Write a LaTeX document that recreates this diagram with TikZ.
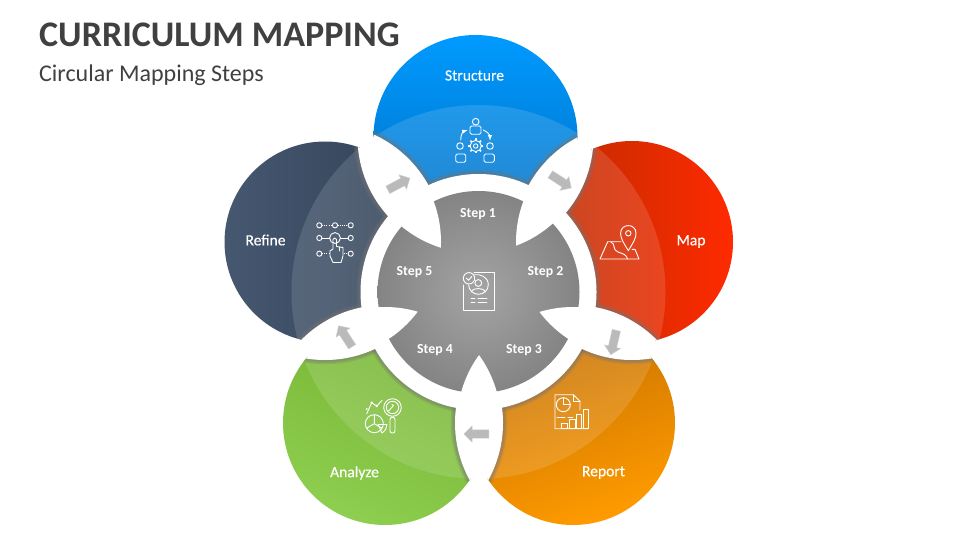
\documentclass[tikz,border=0pt]{standalone}
\usepackage{fontspec}
\usepackage{xcolor}
\setmainfont{Carlito}
\newfontfamily\labelfont[FakeBold=0.35]{Carlito}
\usetikzlibrary{shapes.arrows}
\definecolor{titlegray}{HTML}{404040}
\definecolor{arrowgray}{HTML}{BABABA}
\tikzset{
  petallabel/.style={text=white,font=\labelfont\fontsize{15.6}{18}\selectfont},
  steplabel/.style={text=white,font=\fontsize{13.8}{16}\selectfont\bfseries},
  steparrow/.style={single arrow,fill=arrowgray,draw=arrowgray!70,line width=0.4pt,inner sep=4pt,
    minimum height=25pt,single arrow head extend=4pt,single arrow head indent=0pt},
  iconline/.style={draw=white,line width=0.9pt,line join=round,line cap=round},
  iconthin/.style={draw=white,line width=0.9pt,dash pattern=on 1pt off 1.2pt},
}
\newcommand{\cutshadow}[1]{%
  \foreach \c in {#1} {\foreach \w in {8.5,6,3.5} \draw[black!55,opacity=0.22,line width=\w pt] (\c) circle (118);}%
  \foreach \c in {#1} \fill[white] (\c) circle (118);}
\begin{document}
\begin{tikzpicture}[x=1pt,y=-1pt,>=latex]
\useasboundingbox (0,0) rectangle (960,540);
%==================== Centres ==================
\coordinate (core) at (478.5,292);
\coordinate (structure) at (475.5,137);
\coordinate (map) at (632,242);
\coordinate (report) at (573,423);
\coordinate (analyze) at (385,423);
\coordinate (refine) at (325,242);
%==================== Title ==================
\node[anchor=west,inner sep=0pt,text=titlegray,font=\fontsize{36}{40}\selectfont\bfseries] (title) at (39,35) {CURRICULUM MAPPING};
\node[anchor=west,inner sep=0pt,text=titlegray,font=\fontsize{24}{28}\selectfont] (subtitle) at (39,75.5) {Circular Mapping Steps};
%==================== Petal Structure ==================
\begin{scope}
\clip (structure) circle (102);
\shade[top color={rgb,255:red,0;green,154;blue,255},bottom color={rgb,255:red,0;green,108;blue,190}] (structure) circle (102);
\fill[white,opacity=0.13] (core) circle (187);
\cutshadow{refine,map,core}
\end{scope}
%==================== Petal Map ==================
\begin{scope}
\clip (map) circle (101);
\shade[left color={rgb,255:red,184;green,44;blue,0},right color={rgb,255:red,255;green,42;blue,0}] (map) circle (101);
\fill[white,opacity=0.13] (core) circle (187);
\cutshadow{structure,report,core}
\end{scope}
%==================== Petal Report ==================
\begin{scope}
\clip (report) circle (102);
\shade[top color={rgb,255:red,195;green,110;blue,0},bottom color={rgb,255:red,255;green,155;blue,0},shading angle=20] (report) circle (102);
\fill[white,opacity=0.13] (core) circle (187);
\cutshadow{map,analyze,core}
\end{scope}
%==================== Petal Analyze ==================
\begin{scope}
\clip (analyze) circle (102);
\shade[top color={rgb,255:red,116;green,178;blue,46},bottom color={rgb,255:red,142;green,206;blue,80},shading angle=-25] (analyze) circle (102);
\fill[white,opacity=0.13] (core) circle (187);
\cutshadow{report,refine,core}
\end{scope}
%==================== Petal Refine ==================
\begin{scope}
\clip (refine) circle (100.5);
\shade[left color={rgb,255:red,70;green,88;blue,112},right color={rgb,255:red,48;green,64;blue,86}] (refine) circle (100.5);
\fill[white,opacity=0.13] (core) circle (187);
\cutshadow{analyze,structure,core}
\end{scope}
%==================== Centre disc ==================
\shade[inner color={rgb,255:red,164;green,164;blue,164},outer color={rgb,255:red,132;green,132;blue,132}] (core) circle (101);
\begin{scope}
\clip (structure) circle (116);
\fill[white] (refine) circle (116);
\end{scope}
\begin{scope}
\clip (structure) circle (116);
\fill[white] (map) circle (116);
\end{scope}
\begin{scope}
\clip (map) circle (116);
\fill[white] (report) circle (116);
\end{scope}
\begin{scope}
\clip (report) circle (116);
\fill[white] (analyze) circle (116);
\end{scope}
\begin{scope}
\clip (analyze) circle (116);
\fill[white] (refine) circle (116);
\end{scope}
%==================== Arrows ==================
\node[steparrow,rotate=28] (arrowOne) at (397,185) {};
\node[steparrow,rotate=-33] (arrowTwo) at (559,180) {};
\node[steparrow,rotate=-103] (arrowThree) at (614,340.5) {};
\node[steparrow,rotate=180] (arrowFour) at (478.5,434) {};
\node[steparrow,rotate=123] (arrowFive) at (346.5,338) {};
%==================== Labels ==================
\node[petallabel] (labelStructure) at (474.5,75.5) {Structure};
\node[petallabel] (labelMap) at (691,241.5) {Map};
\node[petallabel] (labelReport) at (603.5,472.5) {Report};
\node[petallabel] (labelAnalyze) at (354.5,473) {Analyze};
\node[petallabel] (labelRefine) at (265.5,240) {Refine};
\node[steplabel] (stepOne) at (478,214.5) {Step 1};
\node[steplabel] (stepTwo) at (545.5,272) {Step 2};
\node[steplabel] (stepThree) at (524,350.5) {Step 3};
\node[steplabel] (stepFour) at (435,350.5) {Step 4};
\node[steplabel] (stepFive) at (414.5,272) {Step 5};
%==================== Icon Structure ==================
\draw[iconline] (475.7,121.7) circle (3.3);
\draw[iconline,rounded corners=1.5pt] (470,134.3) rectangle (481,126);
\draw[iconline] (460,146) circle (3.3);
\draw[iconline,rounded corners=1.5pt] (455.7,162.3) rectangle (465.7,154);
\draw[iconline] (490,146) circle (3.3);
\draw[iconline,rounded corners=1.5pt] (484,162.3) rectangle (494.3,154);
\draw[iconline] (475.7,146) circle (5.6);
\draw[iconline] (475.7,146) circle (2.2);
\foreach \a in {0,45,...,315}
  \draw[white,line width=1.7pt,shift={(475.7,146)}] (\a:5.4) -- (\a:7.5);
\draw[iconline,->] (460.7,140) .. controls (460.7,135) and (463,131.5) .. (467.7,130);
\draw[iconline,->] (483.3,130) .. controls (487,131.5) and (490,135) .. (490,140.7);
%==================== Icon Map ==================
\draw[iconline] (628.3,250.7) .. controls (623,242) and (620.6,238) .. (620.6,233.3)
  .. controls (620.6,223) and (636,223) .. (636,233.3) .. controls (636,238) and (633.6,242) .. (628.3,250.7);
\draw[iconline] (628.3,233.3) circle (2.7);
\draw[iconline] (621,241.7) -- (607.7,241.7) -- (600,259) -- (639,259) -- (635,249.3) -- (632,249.3);
\draw[iconline] (611,242) .. controls (616,244) and (612,250) .. (618,252) .. controls (623,254) and (626,254) .. (627.5,259);
%==================== Icon Report ==================
\draw[iconline] (580,410) -- (580,401.3) -- (573.3,394.7) -- (555,394.7) -- (555,428.7) -- (588.3,428.7);
\draw[iconline] (573.3,394.7) -- (573.3,401.3) -- (580,401.3);
\draw[iconline] (563.3,404.7) circle (7);
\draw[iconline] (563.3,397.7) -- (563.3,404.7) -- (570.3,404.7);
\draw[iconline] (557,417) -- (565,417);
\draw[iconline] (568,417) -- (573,417);
\draw[iconline] (561.7,428.7) rectangle (567,423);
\draw[iconline] (569,428.7) rectangle (575,419.7);
\draw[iconline] (576,428.7) rectangle (581,414);
\draw[iconline] (583.3,428.7) rectangle (588.3,409.7);
%==================== Icon Analyze ==================
\draw[iconline] (392.5,407.5) circle (8.8);
\draw[iconline] (392.5,407.5) circle (6.2);
\draw[iconline] (388.5,411) -- (393.5,405.5) -- (392,404.5);
\draw[iconline,rounded corners=2.2pt] (390,433) rectangle (395,417.3);
\draw[iconline] (374.3,423.7) circle (9);
\draw[iconline] (374.3,414.7) -- (374.3,423.7) -- (366.5,428.2);
\draw[iconline] (374.3,423.7) -- (382.1,428.2);
\draw[iconline] (378,424.5) -- (387,424.5) .. controls (387,428) and (385,431) .. (382,433) -- cycle;
\draw[iconline] (366.7,413.7) -- (371.7,402.7) -- (376.7,406) -- (382,400.5);
\fill[white] (366.7,409) circle (1.2);
\fill[white] (371.7,402.7) circle (1.3);
\fill[white] (376.7,406) circle (1.3);
%==================== Icon Refine ==================
\foreach \x in {319.3,335,350.7} \draw[iconline] (\x,225.3) circle (2.6);
\draw[iconthin] (322,225.3) -- (332.4,225.3);
\draw[iconthin] (337.6,225.3) -- (348,225.3);
\draw[iconline] (319.3,238) circle (2.6);
\draw[iconline] (350.7,238) circle (2.6);
\draw[iconline] (335,238) circle (5.4);
\draw[iconline] (322,238) -- (329.6,238);
\draw[iconline] (340.4,238) -- (348,238);
\draw[iconline] (319.3,253.7) circle (2.6);
\draw[iconline] (350.7,253.7) circle (2.6);
\draw[iconthin] (322,253.7) -- (330,253.7);
\draw[iconthin] (344,253.7) -- (348,253.7);
\draw[iconline] (333,249) -- (333,239.5) .. controls (333,237.5) and (336.5,237.5) .. (336.5,239.5) -- (336.5,246.5)
  -- (343,247.5) -- (343,256) -- (341,262.5) -- (333,262.5) -- (330,256) -- (330,251) -- (333,249);
\draw[iconline] (339,247) -- (339,251);
%==================== Icon centre ==================
\draw[iconline] (474,272.7) -- (494.3,272.7) -- (494.3,310) -- (463.7,310) -- (463.7,285);
\draw[iconline] (469,278.3) circle (5.7);
\draw[iconline] (466.5,278.3) -- (468.5,280.3) -- (471.8,276.5);
\draw[iconline] (474.5,274.8) .. controls (480,273.5) and (488,277) .. (488.3,284.3) .. controls (488.5,290) and (484,294.3) .. (478.3,294.3) .. controls (473,294.3) and (468.8,290) .. (468.6,285);
\draw[iconline] (478.3,283) circle (3.4);
\draw[iconline] (471.5,292) .. controls (472,287.5) and (484.5,287.5) .. (485.2,292);
\draw[iconline] (478,298.3) -- (487,298.3);
\draw[iconline] (478,302.7) -- (487,302.7);
\draw[iconline] (471,298.3) -- (475,298.3);
\draw[iconline] (471,302.7) -- (475,302.7);
\end{tikzpicture}
\end{document}
